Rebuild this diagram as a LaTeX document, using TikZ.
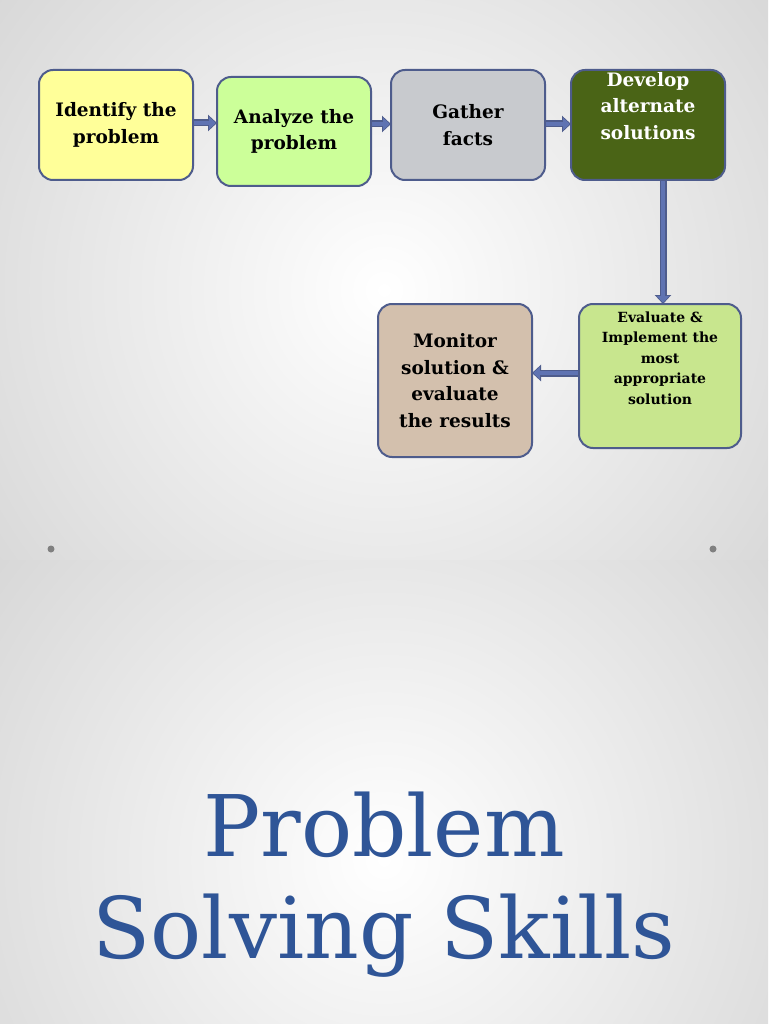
\documentclass[tikz,border=0pt]{standalone}
\usepackage{fontspec}
\setmainfont{DejaVu Serif}
\usetikzlibrary{arrows.meta}
\definecolor{bord}{RGB}{78,92,140}
\definecolor{arr}{RGB}{95,115,178}
\definecolor{ttl}{RGB}{47,85,151}
\tikzset{
 box/.style={draw=bord,line width=2pt,rounded corners=14pt,minimum width=154pt,align=center,font=\bfseries\fontsize{18.5}{26.5}\selectfont,inner sep=1pt},
 barr/.style={line width=7pt,draw=bord,-{Triangle[length=9pt,width=16pt]}},
 iarr/.style={line width=4.6pt,draw=arr,-{Triangle[length=6.5pt,width=12pt]},shorten >=1.3pt,shorten <=0.8pt},
}
\begin{document}
\begin{tikzpicture}[x=1pt,y=-1pt]
\useasboundingbox (0,0) rectangle (768,1024);
\begin{scope}
\clip (0,0) rectangle (768,560);
\shade[inner color=white,outer color=black!17] (384,290) circle (540);
\end{scope}
\begin{scope}
\clip (0,560) rectangle (768,1024);
\shade[inner color=white,outer color=black!17] (384,860) circle (540);
\end{scope}
\node[box,fill={rgb,255:red,255;green,255;blue,153},minimum height=110pt] (b1) at (116,125) {Identify the\\problem};
\node[box,fill={rgb,255:red,204;green,255;blue,153},minimum height=109pt] (b2) at (294,131.5) {Analyze the\\problem};
\node[box,fill={rgb,255:red,200;green,202;blue,206},minimum height=110pt] (b3) at (468,125) {Gather\\facts};
\node[box,fill={rgb,255:red,74;green,100;blue,22},minimum height=110pt,text=white] (b4) at (648,125) {Develop\\alternate\\solutions\\[12pt]};
\node[box,fill={rgb,255:red,200;green,230;blue,142},minimum width=162pt,minimum height=144pt,font=\bfseries\fontsize{14}{20.5}\selectfont] (b5) at (660,376) {Evaluate \&\\Implement the\\most\\appropriate\\solution\\[16pt]};
\node[box,fill={rgb,255:red,211;green,192;blue,173},minimum height=153pt] (b6) at (455,380.5) {Monitor\\solution \&\\evaluate\\the results};
\coordinate (a1s) at (193,123); \coordinate (a1e) at (217,123);
\coordinate (a2s) at (371,124); \coordinate (a2e) at (391,124);
\coordinate (a3s) at (545,124); \coordinate (a3e) at (571,124);
\coordinate (a4s) at (663,180); \coordinate (a4e) at (663,304);
\coordinate (a5s) at (579,373); \coordinate (a5e) at (532,373);
\foreach \s/\e in {a1s/a1e,a2s/a2e,a3s/a3e,a4s/a4e,a5s/a5e}{
 \draw[barr] (\s) -- (\e);
 \draw[iarr] (\s) -- (\e);
}
\fill[black!50] (51,549) circle (3.5) (713,549) circle (3.5);
\node[text=ttl,font=\fontsize{85}{102}\selectfont,align=center] (t) at (384,885) {Problem\\Solving Skills};
\end{tikzpicture}
\end{document}
